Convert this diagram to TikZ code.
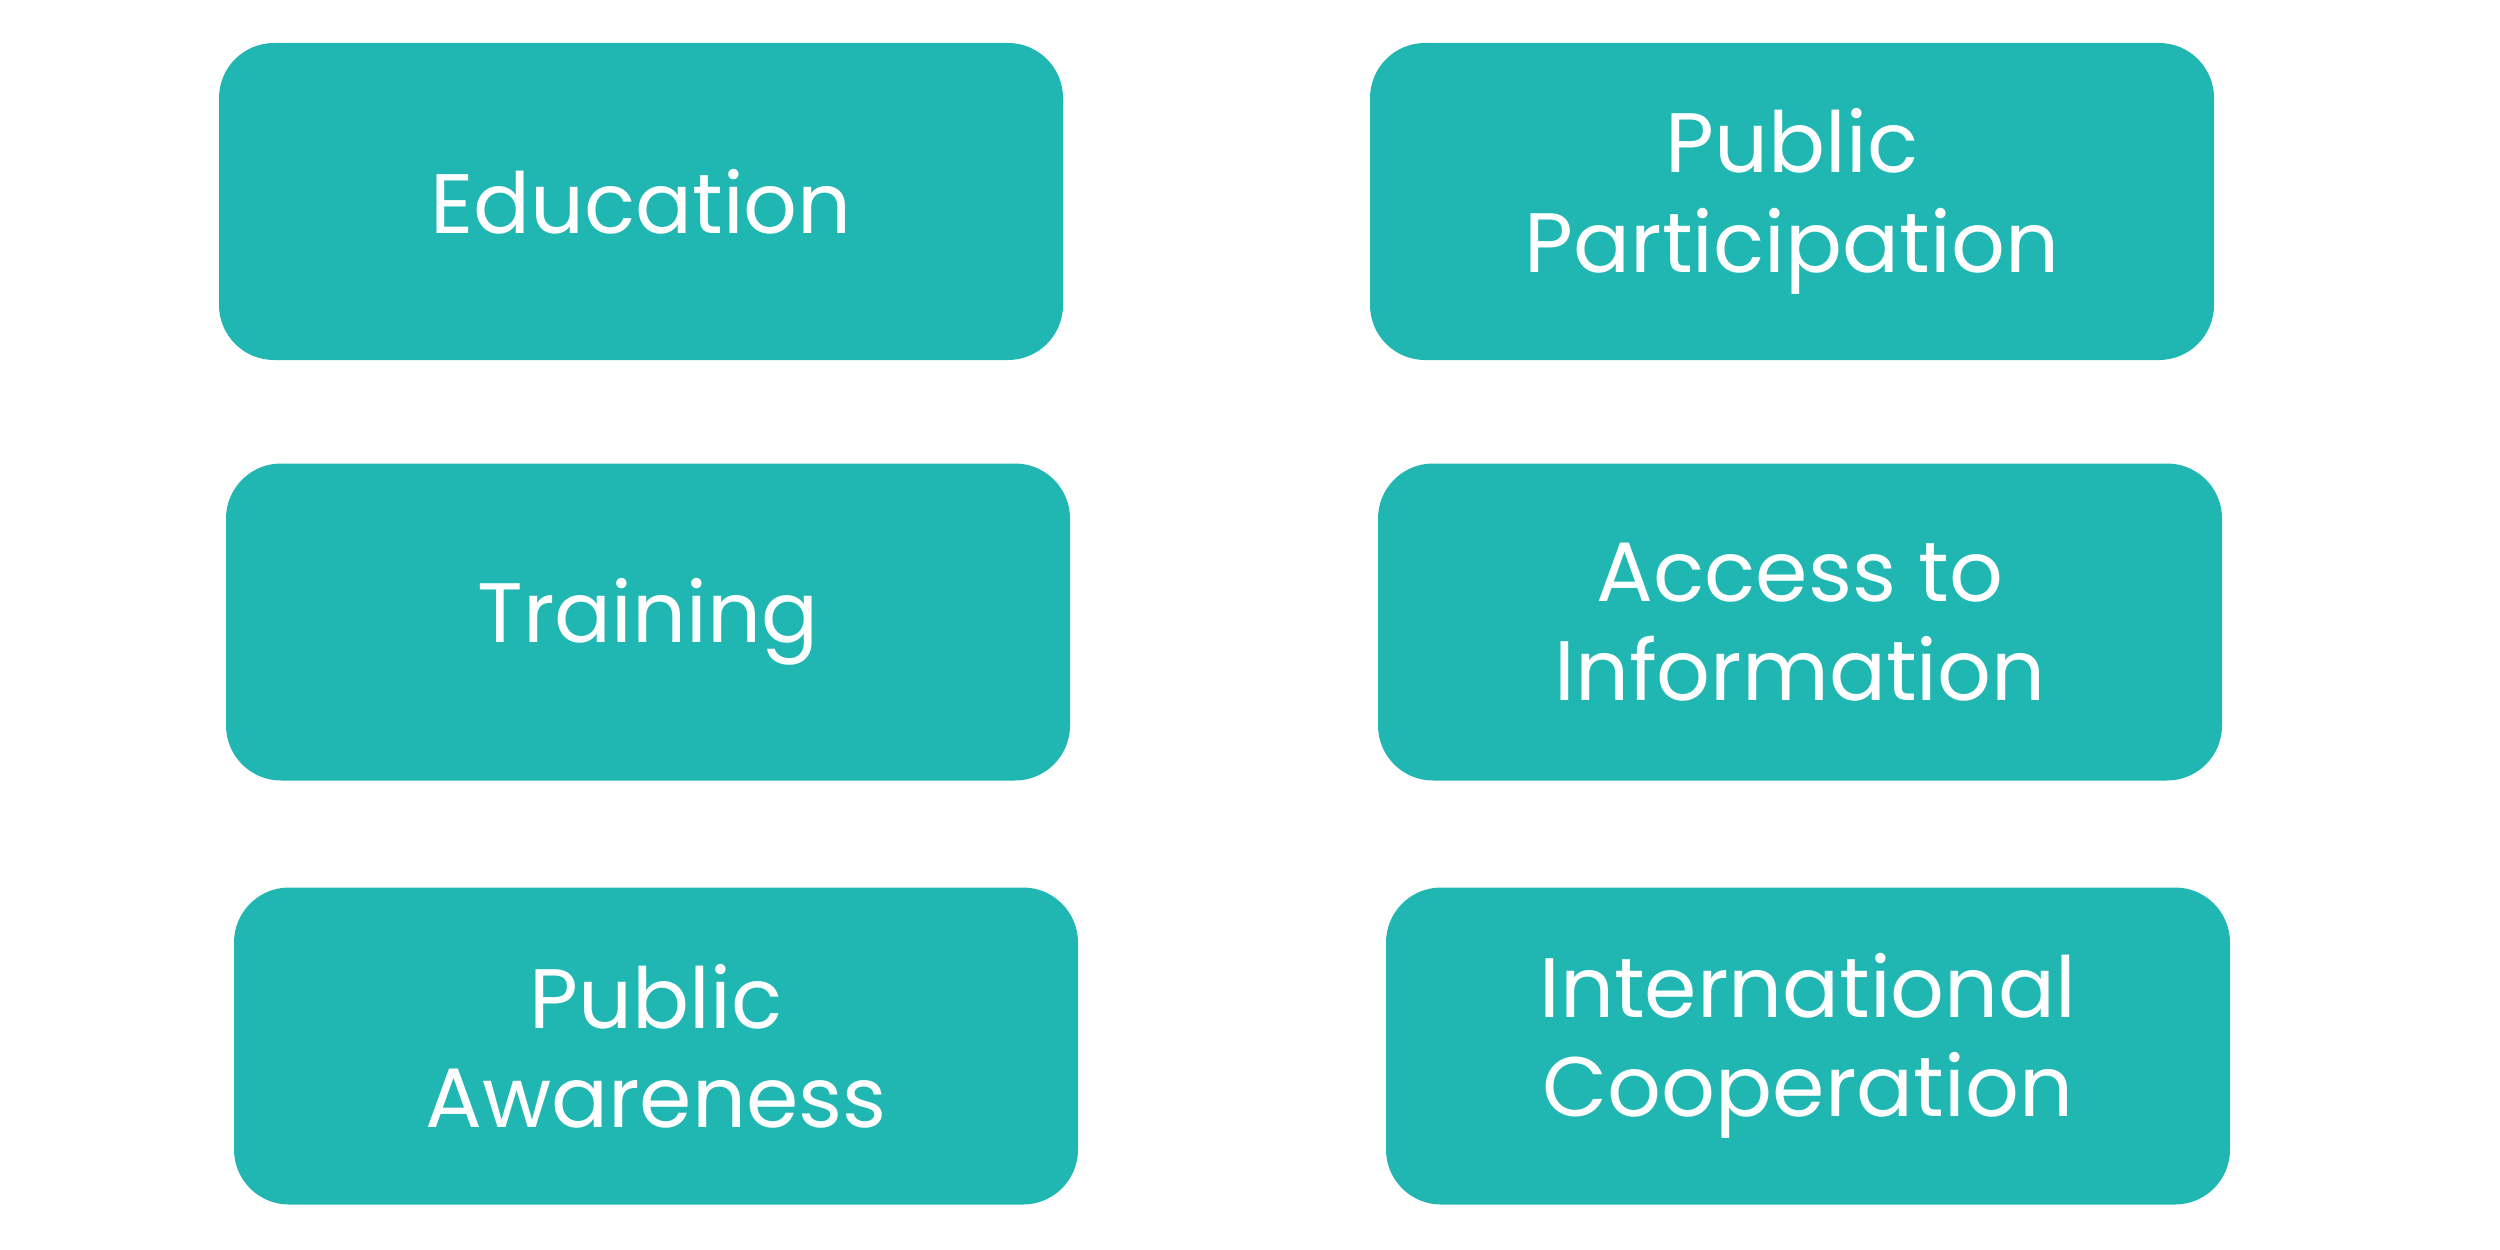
\documentclass[tikz,border=0pt]{standalone}
\usepackage{fontspec}
\setmainfont{Poppins}
\usepackage{xcolor}
\usepackage{tikz}
\usetikzlibrary{positioning}
\definecolor{tealbox}{HTML}{20B7B3}

\begin{document}
\begin{tikzpicture}[
      every node/.style={font=\fontsize{24}{28.3}\selectfont},
      topicbox/.style={fill=tealbox,text=white,rounded corners=0.55cm,minimum width=8.44cm,minimum height=3.17cm,align=center,inner sep=0pt}
  ]
    \useasboundingbox (0,0) rectangle (25,-12.5);

    \node[topicbox] (edu) at (6.41,-2.015) {Education};
    \node[topicbox] (part) at (17.92,-2.015) {Public\\Participation};
    \node[topicbox] (train) at (6.48,-6.22) {Training};
    \node[topicbox] (info) at (18.00,-6.22) {Access to\\Information};
    \node[topicbox] (aware) at (6.56,-10.46) {Public\\Awareness};
    \node[topicbox] (coop) at (18.08,-10.46) {International\\Cooperation};
  \end{tikzpicture}
\end{document}
